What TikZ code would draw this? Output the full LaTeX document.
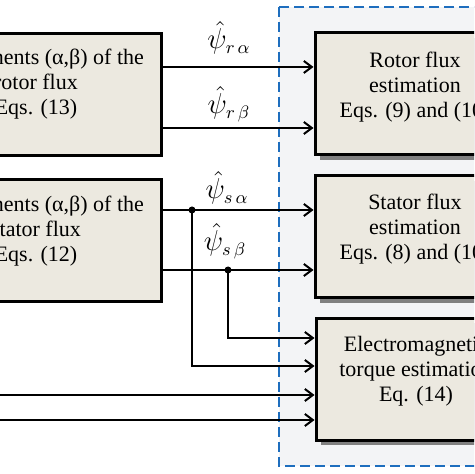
\documentclass[tikz,border=0pt]{standalone}
\usepackage{fontspec}
\setmainfont{Liberation Serif}
\usetikzlibrary{arrows.meta,shadows}
\definecolor{boxfill}{RGB}{236,233,224}
\definecolor{regionfill}{RGB}{243,244,246}
\definecolor{dashblue}{RGB}{30,110,190}
\definecolor{shadowgray}{RGB}{128,128,128}
\tikzset{
  blockbox/.style={draw=black, line width=1.5pt, fill=boxfill, minimum width=100pt, minimum height=61pt, inner sep=0pt},
  shadowbox/.style={blockbox, drop shadow={shadow xshift=2.5pt, shadow yshift=-2.5pt, fill=shadowgray, opacity=1}},
  boxtext/.style={align=center, font=\fontsize{11}{12.5}\selectfont, inner sep=0pt},
  sig/.style={line width=1pt},
  arr/.style={sig, -{Straight Barb[length=4pt,width=6pt,line width=1pt]}},
  dot/.style={circle, fill=black, inner sep=0pt, minimum size=3.5pt},
  lbl/.style={font=\fontsize{13.5}{15}\selectfont, inner sep=0pt}
}
\begin{document}
\begin{tikzpicture}[x=0.5pt, y=-0.5pt]
\useasboundingbox (0,0) rectangle (474,474);
\clip (0,0) rectangle (474,474);
% dashed region
\draw[dashblue, line width=1.2pt, dash pattern=on 5pt off 2.5pt, fill=regionfill] (279,7) rectangle (500,466);
% left boxes
\node[blockbox, minimum width=125pt] (L1) at (36,95) {};
\node[boxtext] (L1t) at (36,84) {Components (α,β) of the\\rotor flux\\Eqs. (13)};
\node[blockbox, minimum width=125pt] (L2) at (36,241) {};
\node[boxtext] (L2t) at (36,231) {Components (α,β) of the\\stator flux\\Eqs. (12)};
% right boxes
\node[shadowbox] (R1) at (415,94) {};
\node[boxtext] (R1t) at (415,87) {Rotor flux\\estimation\\Eqs. (9) and (10)};
\node[shadowbox] (R2) at (415,237) {};
\node[boxtext] (R2t) at (415,229) {Stator flux\\estimation\\Eqs. (8) and (10)};
\node[shadowbox] (R3) at (416,379) {};
\node[boxtext] (R3t) at (416,371) {Electromagnetic\\torque estimation\\Eq. (14)};
% rotor flux signals
\draw[arr] (L1.east |- 0,67) -- (R1.west |- 0,67);
\draw[arr] (L1.east |- 0,128) -- (R1.west |- 0,128);
\node[lbl] (lra) at (229,38) {$\hat{\psi}_{r\,\alpha}$};
\node[lbl] (lrb) at (229,104) {$\hat{\psi}_{r\,\beta}$};
% stator flux signals
\coordinate (j1) at (192,210);
\coordinate (j2) at (228,270);
\draw[arr] (L2.east |- j1) -- (R2.west |- j1);
\draw[arr] (L2.east |- j2) -- (R2.west |- j2);
\node[lbl] (lsa) at (227,188) {$\hat{\psi}_{s\,\alpha}$};
\node[lbl] (lsb) at (225,241) {$\hat{\psi}_{s\,\beta}$};
\draw[arr] (j1) -- (192,366) -- (R3.west |- 0,366);
\draw[arr] (j2) -- (228,338) -- (R3.west |- 0,338);
\node[dot] (d1) at (j1) {};
\node[dot] (d2) at (j2) {};
% external inputs
\coordinate (in1) at (-10,395);
\coordinate (in2) at (-10,420);
\draw[arr] (in1) -- (R3.west |- in1);
\draw[arr] (in2) -- (R3.west |- in2);
\end{tikzpicture}
\end{document}
